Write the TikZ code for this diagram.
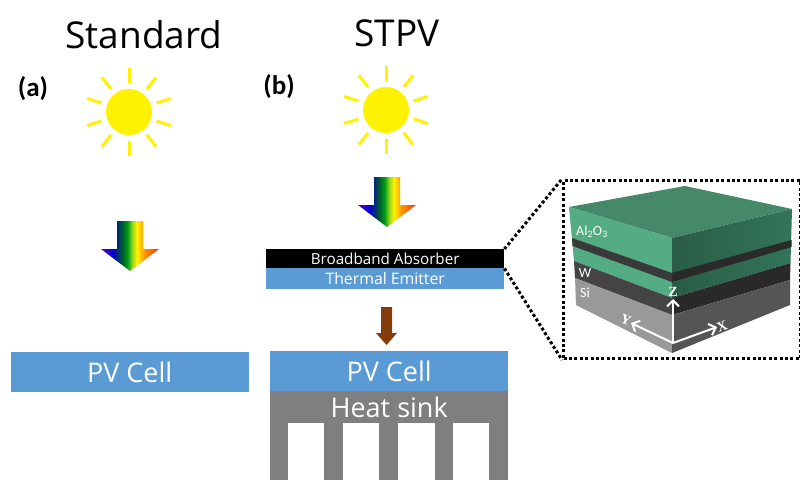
\documentclass[tikz,border=0pt]{standalone}
\usepackage{fontspec}
\setmainfont{Carlito}
\newfontfamily\cmc{Open Sans}
\newfontfamily\axisfont{Liberation Serif}
\usetikzlibrary{calc,arrows.meta}
\definecolor{pvblue}{HTML}{5B9BD5}
\definecolor{sinkgray}{HTML}{7F7F7F}
\definecolor{sunyellow}{HTML}{FFF200}
\definecolor{brownarrow}{HTML}{843C0C}
\definecolor{cubetop}{HTML}{45896A}
\definecolor{cubeL}{HTML}{54AC84}
\definecolor{cubeRa}{HTML}{2A5C46}
\definecolor{cubeRb}{HTML}{32755A}
\definecolor{cubeDL}{HTML}{3A3A3A}
\definecolor{cubeDR}{HTML}{2A2A2A}
\definecolor{cubeWL}{HTML}{444444}
\definecolor{cubeWR}{HTML}{292929}
\definecolor{cubeSL}{HTML}{999999}
\definecolor{cubeSR}{HTML}{555555}
\pgfdeclarehorizontalshading{rainbowshade}{100bp}{
 rgb(0bp)=(0.4,0,0.7);
 rgb(25bp)=(0.4,0,0.7);
 rgb(35bp)=(0,0,0.85);
 rgb(40bp)=(0,0.2,0.4);
 rgb(44bp)=(0,0.4,0.15);
 rgb(48bp)=(0,0.62,0.1);
 rgb(52bp)=(0.6,0.85,0.1);
 rgb(56bp)=(1,0.95,0);
 rgb(62bp)=(1,0.6,0);
 rgb(75bp)=(0.95,0.2,0);
 rgb(100bp)=(0.95,0.2,0)}
\tikzset{
 title/.style={font=\cmc\fontsize{37}{37}\selectfont,inner sep=0pt},
 tag/.style={font=\bfseries\fontsize{27}{27}\selectfont,inner sep=0pt},
 bar/.style={fill=pvblue,inner sep=0pt,text=white,font=\cmc\fontsize{27}{27}\selectfont,minimum width=238pt,anchor=north west},
 slim/.style={inner sep=0pt,text=white,minimum width=238pt,anchor=north west},
 ray/.style={draw=sunyellow,line width=3pt},
 fin/.style={fill=sinkgray},
 dots/.style={draw=black,line width=3pt,dash pattern=on 3pt off 2.4pt},
 layerlabel/.style={inner sep=0pt,text=white,font=\fontsize{14}{14}\selectfont},
 axis/.style={draw=white,line width=2pt,-{Straight Barb[length=6pt,width=12pt]}},
 axislabel/.style={inner sep=0pt,text=white,font=\axisfont\bfseries\fontsize{14}{14}\selectfont}
}
\newcommand{\sunat}[2]{%
 \fill[sunyellow] (#1,#2) circle[radius=23];
 \foreach \a in {90,52,18,-18,-52,-90,-128,-162,162,128}{\draw[ray] ($(#1,#2)+(\a:29)$)--($(#1,#2)+(\a:44)$);}
}
\newcommand{\rainbow}[2]{%
 \path[shade,shading=rainbowshade]
  (#1-13,#2)--(#1+13,#2)--(#1+13,#2+28)--(#1+29,#2+28)--(#1,#2+50)--(#1-29,#2+28)--(#1-13,#2+28)--cycle;
}
\begin{document}
\begin{tikzpicture}[x=1pt,y=-1pt]
\useasboundingbox (0,0) rectangle (800,480);
\fill[white] (0,0) rectangle (800,480);
\node[title] (tstd) at (144,35) {Standard};
\node[title] (tstpv) at (397,33) {STPV};
\node[tag] (la) at (33,89) {(a)};
\node[tag] (lb) at (279,87) {(b)};
\sunat{129}{112}
\sunat{386}{110}
\rainbow{130}{221}
\rainbow{387}{177}
\node[bar,minimum height=40pt] (pva) at (10.5,352) {PV Cell};
\node[slim,fill=black,font=\cmc\fontsize{15.2}{15.2}\selectfont,minimum height=19pt] (abs) at (266,249) {Broadband Absorber};
\node[slim,fill=pvblue,font=\cmc\fontsize{15.8}{15.8}\selectfont,minimum height=21pt] (emit) at (266,268) {Thermal Emitter};
\fill[brownarrow] (381,307)--(392,307)--(392,333)--(397,333)--(386.5,345)--(376,333)--(381,333)--cycle;
\node[bar,minimum height=40pt] (pvb) at (270,351) {PV Cell};
\node[bar,fill=sinkgray,minimum height=32pt] (sink) at (270,391) {Heat sink};
\foreach \x/\w in {270/18,324/19,379/19,435/18,489/19}{\fill[fin] (\x,423) rectangle (\x+\w,480);}
% inset cube
\fill[cubetop] (569,207)--(685,186)--(792,209)--(672,238)--cycle;
\fill[cubeL] (569,207)--(672,238)--(672,298)--(574,261)--cycle;
\fill[cubeDL] (572,238)--(672,273)--(672,282)--(572.5,246)--cycle;
\fill[cubeWL] (574,261)--(672,298)--(672,315)--(575,278)--cycle;
\fill[cubeSL] (575,278)--(672,315)--(672,353)--(576,305)--cycle;
\path[left color=cubeRa,right color=cubeRb] (672,238)--(792,209)--(790.5,263)--(672,298)--cycle;
\fill[cubeDR] (672,273)--(791.5,240)--(791.5,247)--(672,282)--cycle;
\fill[cubeWR] (672,298)--(790.5,263)--(790,280)--(672,315)--cycle;
\fill[cubeSR] (672,315)--(790,280)--(790,305)--(672,353)--cycle;
\node[layerlabel,anchor=west] (al) at (576,232) {Al\textsubscript{2}O\textsubscript{3}};
\node[layerlabel] (w) at (585,273) {W};
\node[layerlabel] (si) at (585,293) {Si};
\coordinate (o) at (673,343);
\coordinate (zend) at (673,299);
\coordinate (yend) at (631,323);
\coordinate (xend) at (717,327);
\draw[axis] (o)--(zend);
\draw[axis] (o)--(yend);
\draw[axis] (o)--(xend);
\node[axislabel] (zl) at (673,292) {Z};
\node[axislabel,rotate=-20] (yl) at (626,320) {Y};
\node[axislabel,rotate=20] (xl) at (722,326) {X};
\node[dots,inner sep=0pt,minimum width=237pt,minimum height=178pt,anchor=north west] (frame) at (562,179) {};
\draw[dots] (abs.north east)--(frame.north west);
\draw[dots] (abs.south east)--(frame.south west);
\end{tikzpicture}
\end{document}
